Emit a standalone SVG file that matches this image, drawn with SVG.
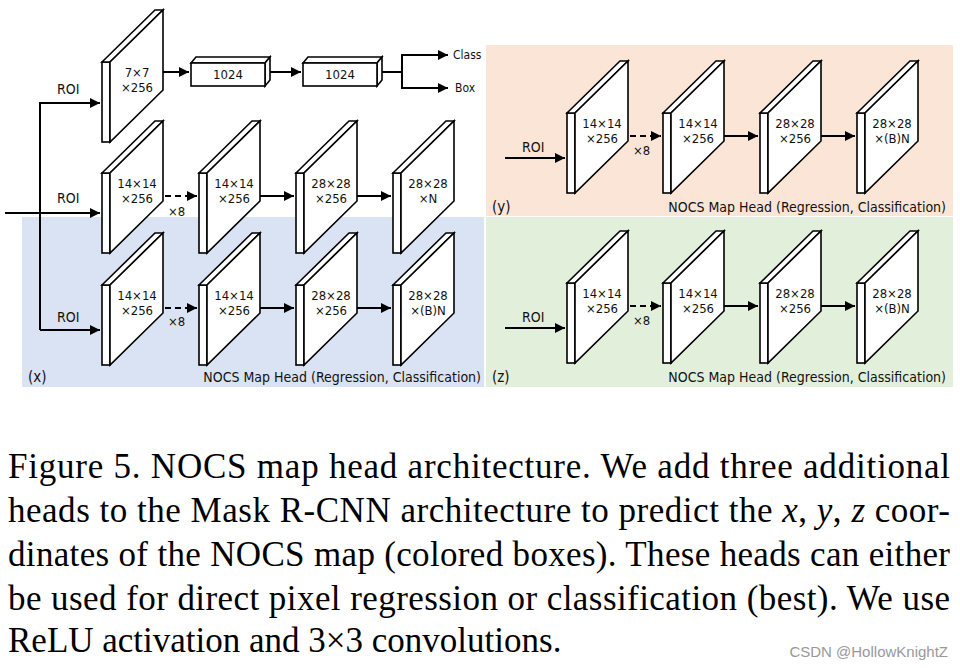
<svg xmlns="http://www.w3.org/2000/svg" xmlns:xlink="http://www.w3.org/1999/xlink" width="960" height="668" viewBox="0 0 960 668">
<style>
.s{stroke:#000;stroke-width:1.6;fill:#fff;stroke-linejoin:miter}
.l{stroke:#000;stroke-width:2;fill:none}
.d{stroke:#000;stroke-width:2;fill:none;stroke-dasharray:6,4}
.t{font-family:"DejaVu Sans Condensed","DejaVu Sans",sans-serif;font-size:13px;fill:#111}
.c{text-anchor:middle}
.h{font-size:14px}
.cap{font-family:"Liberation Serif",serif;font-size:35px;fill:#000}
</style>
<defs>
<marker id="a" viewBox="0 0 10 10" refX="10" refY="5" markerWidth="5" markerHeight="5" orient="auto" markerUnits="strokeWidth"><path d="M0,0L10,5L0,10z" fill="#000"/></marker>
<g id="p">
<rect class="s" x="0" y="0" width="8" height="80"/>
<polygon class="s" points="0,0 53,-52 61,-52 8,0"/>
<polygon class="s" points="8,0 61,-52 61,28 8,80"/>
</g>
</defs>
<rect width="960" height="668" fill="#fff"/>
<rect x="22" y="217" width="462" height="170" fill="#dae3f3"/>
<rect x="486" y="45" width="467" height="171" fill="#fbe5d6"/>
<rect x="486" y="217" width="467" height="170" fill="#e2efda"/>

<g id="connectors">
<path class="l" d="M5,213H100" marker-end="url(#a)"/>
<path class="l" d="M40,330V103H100" marker-end="url(#a)"/>
<path class="l" d="M40,330H100" marker-end="url(#a)"/>
<path class="l" d="M155,72H189" marker-end="url(#a)"/>
<path class="l" d="M270,72H301" marker-end="url(#a)"/>
<path class="l" d="M382,72H402V55H448M402,72V88H448" marker-end="url(#a)"/>
<path class="l" d="M402,55H448" marker-end="url(#a)"/>
<path class="d" d="M155,196H197" marker-end="url(#a)"/>
<path class="l" d="M252,196H294" marker-end="url(#a)"/>
<path class="l" d="M349,196H391" marker-end="url(#a)"/>
<path class="d" d="M155,308H197" marker-end="url(#a)"/>
<path class="l" d="M252,308H294" marker-end="url(#a)"/>
<path class="l" d="M349,308H391" marker-end="url(#a)"/>
<path class="l" d="M505,158H565" marker-end="url(#a)"/>
<path class="d" d="M620,136H661" marker-end="url(#a)"/>
<path class="l" d="M716,136H758" marker-end="url(#a)"/>
<path class="l" d="M813,136H855" marker-end="url(#a)"/>
<path class="l" d="M505,328H565" marker-end="url(#a)"/>
<path class="d" d="M620,306H661" marker-end="url(#a)"/>
<path class="l" d="M716,306H758" marker-end="url(#a)"/>
<path class="l" d="M813,306H855" marker-end="url(#a)"/>
</g>

<g id="fc1"><polygon class="s" points="191,63 196,57 270,57 265,63"/><polygon class="s" points="265,63 270,57 270,80 265,86"/><rect class="s" x="191" y="63" width="74" height="23"/><text class="t c" x="228" y="79">1024</text></g>
<g id="fc2"><polygon class="s" points="303,63 308,57 382,57 377,63"/><polygon class="s" points="377,63 382,57 382,80 377,86"/><rect class="s" x="303" y="63" width="74" height="23"/><text class="t c" x="340" y="79">1024</text></g>
<text class="t" x="453" y="59" style="font-size:12px">Class</text>
<text class="t" x="455" y="92" style="font-size:12px">Box</text>
<text class="t h" x="57" y="94">ROI</text>
<text class="t h" x="57" y="203">ROI</text>
<text class="t h" x="57" y="322">ROI</text>
<text class="t h" x="522" y="152">ROI</text>
<text class="t h" x="522" y="322">ROI</text>

<g id="n0"><use xlink:href="#p" x="102" y="62"/><text class="t c" x="137" y="77">7×7</text><text class="t c" x="137" y="92">×256</text></g>

<g id="n1"><use xlink:href="#p" x="102" y="173"/><text class="t c" x="137" y="188">14×14</text><text class="t c" x="137" y="203">×256</text></g>
<g id="n2"><use xlink:href="#p" x="199" y="173"/><text class="t c" x="234" y="188">14×14</text><text class="t c" x="234" y="203">×256</text></g>
<g id="n3"><use xlink:href="#p" x="296" y="173"/><text class="t c" x="331" y="188">28×28</text><text class="t c" x="331" y="203">×256</text></g>
<g id="n4"><use xlink:href="#p" x="393" y="173"/><text class="t c" x="428" y="188">28×28</text><text class="t c" x="428" y="203">×N</text></g>
<text class="t" x="168" y="216">×8</text>

<g id="x1"><use xlink:href="#p" x="102" y="285"/><text class="t c" x="137" y="300">14×14</text><text class="t c" x="137" y="315">×256</text></g>
<g id="x2"><use xlink:href="#p" x="199" y="285"/><text class="t c" x="234" y="300">14×14</text><text class="t c" x="234" y="315">×256</text></g>
<g id="x3"><use xlink:href="#p" x="296" y="285"/><text class="t c" x="331" y="300">28×28</text><text class="t c" x="331" y="315">×256</text></g>
<g id="x4"><use xlink:href="#p" x="393" y="285"/><text class="t c" x="428" y="300">28×28</text><text class="t c" x="428" y="315">×(B)N</text></g>
<text class="t" x="168" y="326">×8</text>
<text class="t" x="28" y="382" style="font-size:15px">(x)</text>
<text class="t" x="481" y="382" text-anchor="end" style="font-size:14px">NOCS Map Head (Regression, Classification)</text>

<g id="y1"><use xlink:href="#p" x="567" y="113"/><text class="t c" x="602" y="128">14×14</text><text class="t c" x="602" y="143">×256</text></g>
<g id="y2"><use xlink:href="#p" x="663" y="113"/><text class="t c" x="698" y="128">14×14</text><text class="t c" x="698" y="143">×256</text></g>
<g id="y3"><use xlink:href="#p" x="760" y="113"/><text class="t c" x="795" y="128">28×28</text><text class="t c" x="795" y="143">×256</text></g>
<g id="y4"><use xlink:href="#p" x="857" y="113"/><text class="t c" x="892" y="128">28×28</text><text class="t c" x="892" y="143">×(B)N</text></g>
<text class="t" x="633" y="155">×8</text>
<text class="t" x="492" y="212" style="font-size:15px">(y)</text>
<text class="t" x="946" y="212" text-anchor="end" style="font-size:14px">NOCS Map Head (Regression, Classification)</text>

<g id="z1"><use xlink:href="#p" x="567" y="283"/><text class="t c" x="602" y="298">14×14</text><text class="t c" x="602" y="313">×256</text></g>
<g id="z2"><use xlink:href="#p" x="663" y="283"/><text class="t c" x="698" y="298">14×14</text><text class="t c" x="698" y="313">×256</text></g>
<g id="z3"><use xlink:href="#p" x="760" y="283"/><text class="t c" x="795" y="298">28×28</text><text class="t c" x="795" y="313">×256</text></g>
<g id="z4"><use xlink:href="#p" x="857" y="283"/><text class="t c" x="892" y="298">28×28</text><text class="t c" x="892" y="313">×(B)N</text></g>
<text class="t" x="633" y="325">×8</text>
<text class="t" x="492" y="382" style="font-size:15px">(z)</text>
<text class="t" x="946" y="382" text-anchor="end" style="font-size:14px">NOCS Map Head (Regression, Classification)</text>

<text class="cap" x="8" y="478" textLength="942" lengthAdjust="spacing">Figure 5. NOCS map head architecture. We add three additional</text>
<text class="cap" x="8" y="522" textLength="942" lengthAdjust="spacing">heads to the Mask R-CNN architecture to predict the <tspan font-style="italic">x</tspan>, <tspan font-style="italic">y</tspan>, <tspan font-style="italic">z</tspan> coor-</text>
<text class="cap" x="8" y="566" textLength="942" lengthAdjust="spacing">dinates of the NOCS map (colored boxes). These heads can either</text>
<text class="cap" x="8" y="610" textLength="942" lengthAdjust="spacing">be used for direct pixel regression or classification (best). We use</text>
<text class="cap" x="8" y="652">ReLU activation and 3×3 convolutions.</text>
<text x="948" y="657" text-anchor="end" style="font-family:'Liberation Sans',sans-serif;font-size:15px;fill:#999">CSDN @HollowKnightZ</text>
</svg>
